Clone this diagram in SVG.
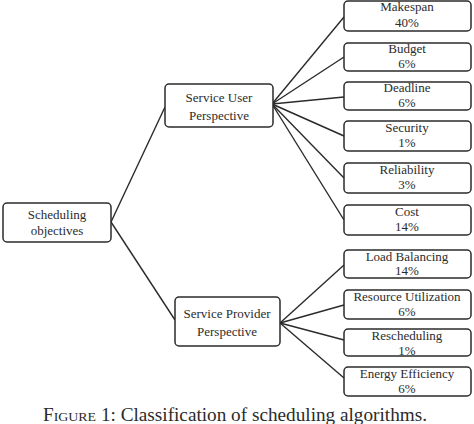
<svg xmlns="http://www.w3.org/2000/svg" width="474" height="424" viewBox="0 0 474 424">
<style>
.box{fill:#fff;stroke:#2b2b2b;stroke-width:1.5}
.t{font-family:"Liberation Serif",serif;font-size:13px;fill:#2b2b2b;text-anchor:middle}
.cap{font-family:"Liberation Serif",serif;font-size:18px;fill:#2b2b2b}
.c{stroke:#2b2b2b;stroke-width:1.4;fill:none}
</style>
<rect width="474" height="424" fill="#fff"/>
<g id="connectors">
<line class="c" x1="111" y1="222" x2="165" y2="107"/>
<line class="c" x1="111" y1="222" x2="175" y2="320"/>
<line class="c" x1="272" y1="104" x2="344" y2="17"/>
<line class="c" x1="272" y1="104" x2="344" y2="57"/>
<line class="c" x1="272" y1="104" x2="344" y2="97"/>
<line class="c" x1="272" y1="104" x2="344" y2="136"/>
<line class="c" x1="272" y1="104" x2="344" y2="178"/>
<line class="c" x1="272" y1="104" x2="344" y2="220"/>
<line class="c" x1="280" y1="323" x2="344" y2="265"/>
<line class="c" x1="280" y1="323" x2="344" y2="305"/>
<line class="c" x1="280" y1="323" x2="344" y2="340"/>
<line class="c" x1="280" y1="323" x2="344" y2="378"/>
</g>
<g id="root"><rect class="box" x="3" y="203" width="108" height="39" rx="4"/><text class="t" x="57" y="219">Scheduling</text><text class="t" x="57" y="235">objectives</text></g>
<g id="user"><rect class="box" x="165" y="84" width="108" height="43" rx="4"/><text class="t" x="219" y="102">Service User</text><text class="t" x="219" y="120">Perspective</text></g>
<g id="provider"><rect class="box" x="175" y="297" width="105" height="49" rx="4"/><text class="t" x="227" y="318">Service Provider</text><text class="t" x="227" y="336">Perspective</text></g>
<g id="makespan"><rect class="box" x="344" y="1" width="127" height="30" rx="4"/><text class="t" x="407" y="11">Makespan</text><text class="t" x="407" y="27">40%</text></g>
<g id="budget"><rect class="box" x="344" y="43" width="127" height="28" rx="4"/><text class="t" x="407" y="53">Budget</text><text class="t" x="407" y="68">6%</text></g>
<g id="deadline"><rect class="box" x="344" y="82" width="127" height="28" rx="4"/><text class="t" x="407" y="92">Deadline</text><text class="t" x="407" y="107">6%</text></g>
<g id="security"><rect class="box" x="344" y="121" width="127" height="30" rx="4"/><text class="t" x="407" y="132">Security</text><text class="t" x="407" y="147">1%</text></g>
<g id="reliability"><rect class="box" x="344" y="163" width="127" height="30" rx="4"/><text class="t" x="407" y="174">Reliability</text><text class="t" x="407" y="189">3%</text></g>
<g id="cost"><rect class="box" x="344" y="205" width="127" height="30" rx="4"/><text class="t" x="407" y="216">Cost</text><text class="t" x="407" y="231">14%</text></g>
<g id="load"><rect class="box" x="344" y="250" width="127" height="28" rx="4"/><text class="t" x="407" y="261">Load Balancing</text><text class="t" x="407" y="275">14%</text></g>
<g id="resource"><rect class="box" x="344" y="290" width="127" height="29" rx="4"/><text class="t" x="407" y="301">Resource Utilization</text><text class="t" x="407" y="316">6%</text></g>
<g id="resched"><rect class="box" x="344" y="329" width="127" height="27" rx="4"/><text class="t" x="407" y="340">Rescheduling</text><text class="t" x="407" y="355">1%</text></g>
<g id="energy"><rect class="box" x="344" y="367" width="127" height="29" rx="4"/><text class="t" x="407" y="378">Energy Efficiency</text><text class="t" x="407" y="393">6%</text></g>
<text class="cap" x="43" y="421" textLength="384" lengthAdjust="spacingAndGlyphs"><tspan font-variant="small-caps">Figure</tspan> 1: Classification of scheduling algorithms.</text>
</svg>
